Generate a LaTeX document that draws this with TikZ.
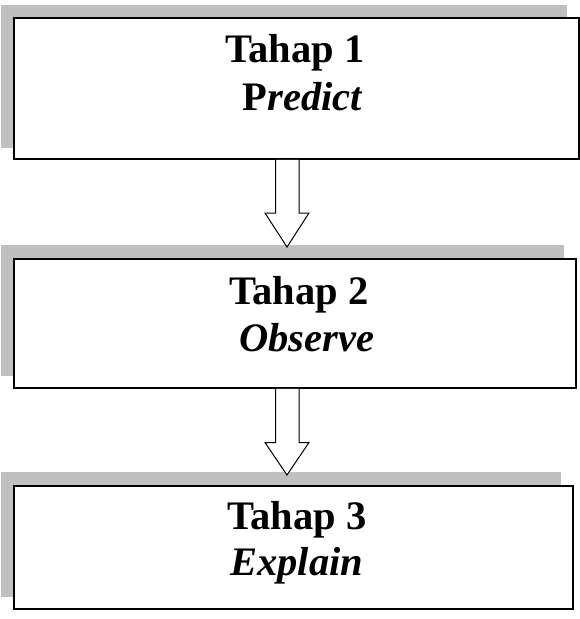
\documentclass[tikz,border=0pt]{standalone}
\usepackage{fontspec}
\setmainfont{Liberation Serif}
\definecolor{shadowgray}{RGB}{192,192,192}
\tikzset{
  stagebox/.style={draw=black, line width=2.2pt, fill=white, inner sep=0pt, rectangle},
  shadowbox/.style={fill=shadowgray, draw=none},
  stagetext/.style={anchor=base, inner sep=0pt, font=\fontsize{40.5}{46}\selectfont\bfseries},
  blockarrow/.style={draw=black, line width=1pt, fill=white, line join=miter}
}
\begin{document}
\begin{tikzpicture}[x=1pt,y=-1pt]
\useasboundingbox (0,0) rectangle (580,619);
% shadows
\fill[shadowgray] (1,4.5) rectangle (567,148);
\fill[shadowgray] (1,245) rectangle (564,376);
\fill[shadowgray] (1,472) rectangle (561,597);
% boxes
\node[stagebox, minimum width=565pt, minimum height=141pt] (b1) at (296.5,88.5) {};
\node[stagebox, minimum width=562pt, minimum height=129pt] (b2) at (295,323.5) {};
\node[stagebox, minimum width=559pt, minimum height=123pt] (b3) at (293.5,547.5) {};
% texts
\node[stagetext] (t1a) at (295,62.3) {Tahap 1};
\node[stagetext] (t1b) at (302.7,110) {P\textit{redict}};
\node[stagetext] (t2a) at (298.7,304.3) {Tahap 2};
\node[stagetext] (t2b) at (306.7,351) {\textit{Observe}};
\node[stagetext] (t3a) at (296.7,529) {Tahap 3};
\node[stagetext] (t3b) at (296.7,575) {\textit{Explain}};
% block arrows
\coordinate (a1tip) at (287,247);
\coordinate (a2tip) at (287,475);
\filldraw[blockarrow] (275.7,159.8) -- (275.7,213) -- (265,213) -- (a1tip) -- (309,213) -- (299,213) -- (299,159.8);
\filldraw[blockarrow] (275.7,388.8) -- (275.7,442.5) -- (265,442.5) -- (a2tip) -- (309,442.5) -- (299,442.5) -- (299,388.8);
\end{tikzpicture}
\end{document}
